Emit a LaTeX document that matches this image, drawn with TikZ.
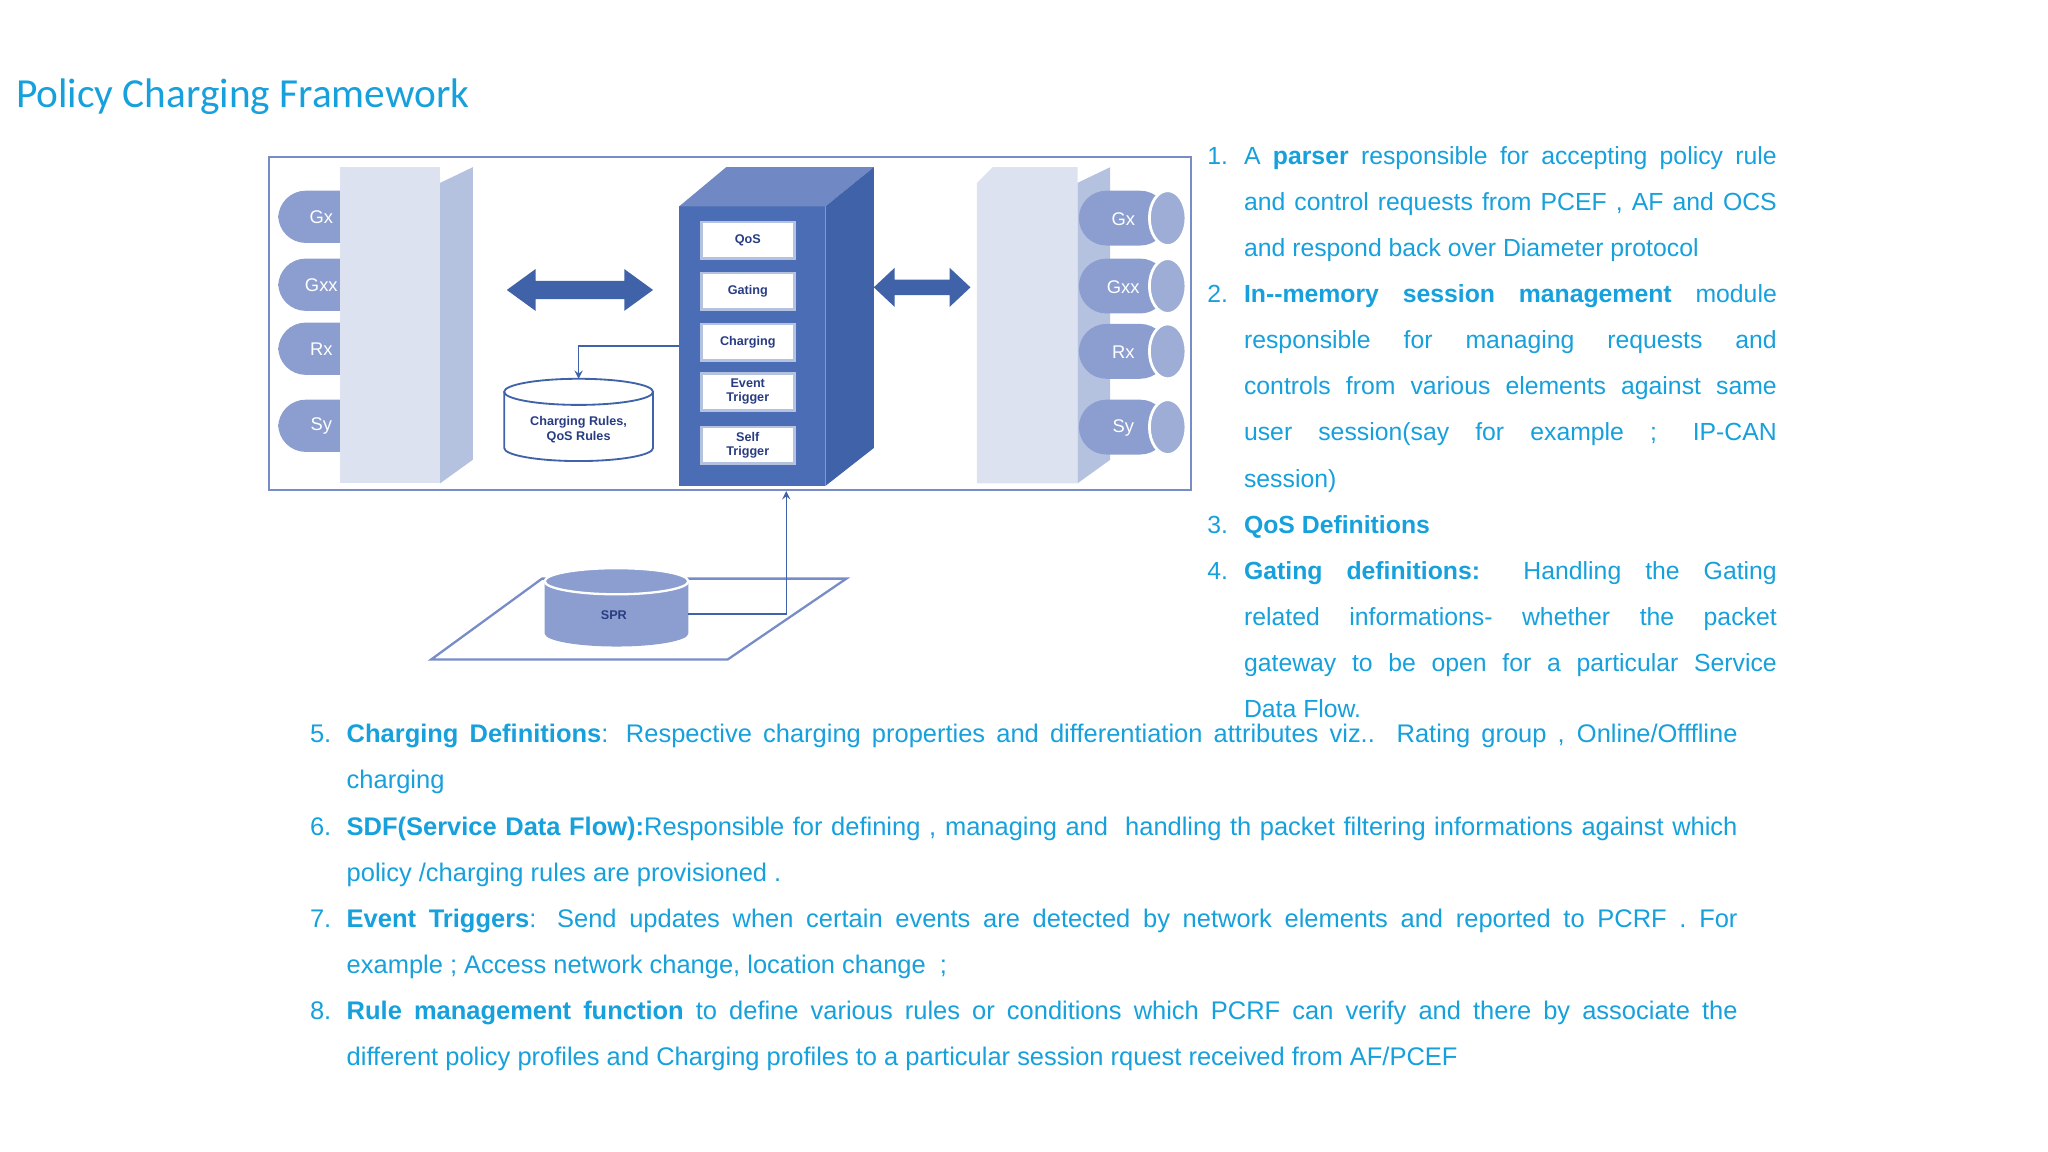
\documentclass[tikz,border=0pt]{standalone}
\usepackage{fontspec}
\setmainfont{Liberation Sans}
\newfontfamily\titlefont{Carlito}
\definecolor{tc}{RGB}{22,160,220}
\definecolor{fr}{RGB}{120,140,200}
\definecolor{slab}{RGB}{220,226,240}
\definecolor{slabside}{RGB}{180,194,224}
\definecolor{tab}{RGB}{140,158,207}
\definecolor{boxf}{RGB}{74,109,181}
\definecolor{boxt}{RGB}{112,136,196}
\definecolor{boxs}{RGB}{63,98,168}
\definecolor{dk}{RGB}{40,60,130}
\begin{document}
\begin{tikzpicture}[x=0.02cm,y=-0.02cm,
  tabt/.style={text=white,font=\fontsize{8}{8}\selectfont},
  btn/.style={draw=slabside,line width=1.2pt,fill=white,minimum width=71*0.02cm,minimum height=28*0.02cm,font=\bfseries\fontsize{5.5}{6}\selectfont,text=dk,align=center,inner sep=0pt},
  dbl/.style={fill=boxs},
  conn/.style={draw=boxs,line width=0.6pt},
  body/.style={text=tc,text width=#1,align=justify,inner sep=0pt,anchor=north west,font=\fontsize{11.1}{20.1}\selectfont},
]
\useasboundingbox (0,0) rectangle (1568,882);
\node[anchor=base west,inner sep=0,text=tc,font=\titlefont\fontsize{18}{18}\selectfont] (title) at (12,82) {Policy Charging Framework};
% frame
\draw[fr,line width=1pt] (206,120) rectangle (912,375);
% left tabs
\foreach \n/\y/\t in {lg/146/Gx,lgg/198/Gxx,lr/247/Rx,ls/306/Sy}{
  \fill[tab,rounded corners=12] (213,\y) rectangle (290,\y+40);
  \node[tabt] (\n) at (246,\y+20) {\t};
}
% left slab
\fill[slab] (260,128) rectangle (337,370);
\fill[slabside] (337,140) -- (362,128) -- (362,352) -- (337,370) -- cycle;
% left arrow
\fill[dbl] (388,222) -- (410,206) -- (410,215) -- (478,215) -- (478,206) -- (500,222) -- (478,238) -- (478,229) -- (410,229) -- (410,238) -- cycle;
% middle box
\fill[boxf] (520,158) rectangle (632,372);
\fill[boxt] (520,158) -- (556,128) -- (669,128) -- (632,158) -- cycle;
\fill[boxs] (632,158) -- (669,128) -- (669,343) -- (632,372) -- cycle;
\node[btn] (qos) at (572.5,184) {QoS};
\node[btn] (gat) at (572.5,223) {Gating};
\node[btn] (chg) at (572.5,262) {Charging};
\node[btn] (evt) at (572.5,300) {Event\\Trigger};
\node[btn] (slf) at (572.5,341) {Self\\Trigger};
% right arrow
\fill[dbl] (669,220) -- (685,205) -- (685,214) -- (727,214) -- (727,205) -- (743,220) -- (727,235) -- (727,226) -- (685,226) -- (685,235) -- cycle;
% right slab
\fill[slab] (748,140) -- (760,128) -- (825,128) -- (825,370) -- (748,370) -- cycle;
\fill[slabside] (825,140) -- (850,128) -- (850,352) -- (825,370) -- cycle;
% right cylinders
\foreach \n/\y/\t in {rg/146/Gx,rgg/198/Gxx,rr/248/Rx,rs/306/Sy}{
  \fill[tab,rounded corners=12] (826,\y) rectangle (894,\y+42);
  \draw[white,line width=1.2pt,fill=tab!85!white] (894,\y+21) ellipse (14 and 21);
  \node[tabt] (\n) at (860,\y+22) {\t};
}
% charging rules cylinder
\draw[boxs,line width=0.8pt,fill=white] (386,300) -- (386,343) arc[start angle=180,end angle=0,x radius=57,y radius=10] -- (500,300);
\draw[boxs,line width=0.8pt,fill=white] (443,300) ellipse (57 and 10);
\node[font=\bfseries\fontsize{5.5}{6.5}\selectfont,text=dk,align=center] (cr) at (443,329) {Charging Rules,\\QoS Rules};
\coordinate (crtop) at (443,290);
\draw[conn,-stealth] (520,265) -| (crtop);
% SPR
\draw[fr,line width=1pt] (330,505) -- (415,443) -- (648,443) -- (557,505) -- cycle;
\fill[tab] (417,445) -- (417,485) arc[start angle=180,end angle=0,x radius=55,y radius=10] -- (527,445) -- cycle;
\draw[white,line width=1pt,fill=tab] (472,445) ellipse (55 and 10);
\node[font=\bfseries\fontsize{5.5}{6}\selectfont,text=dk] (spr) at (470,471) {SPR};
\coordinate (sprr) at (527,470);
\coordinate (boxb) at (602,376);
\draw[conn,-stealth] (sprr) -| (boxb);
% text
\newcommand\itm[2]{\par\noindent\hangindent=16pt\hangafter=1\makebox[16pt][l]{#1}#2\par}
\node[body=436*0.02cm] (rt) at (924,90) {\fontsize{10.8}{20.1}\selectfont\hyphenpenalty=10000\exhyphenpenalty=10000%
\itm{1.}{A \textbf{parser} responsible for accepting policy rule\linebreak and control requests from PCEF , AF and OCS\linebreak and respond back over Diameter protocol}
\itm{2.}{\textbf{In{-}{-}memory session management} module\linebreak responsible for managing requests and\linebreak controls from various elements against same\linebreak user session(say for example ; IP-CAN\linebreak session)}
\itm{3.}{\textbf{QoS Definitions}}
\itm{4.}{\textbf{Gating definitions:} Handling the Gating\linebreak related informations- whether the packet\linebreak gateway to be open for a particular Service\linebreak Data Flow.}};
\node[body=1093*0.02cm] (bt) at (237,533) {\hyphenpenalty=10000\exhyphenpenalty=10000%
\itm{5.}{\textbf{Charging Definitions}: Respective charging properties and differentiation attributes viz.. Rating group , Online/Offfline\linebreak charging}
\itm{6.}{\textbf{SDF(Service Data Flow):}Responsible for defining , managing and \ handling th packet filtering informations against which\linebreak policy /charging rules are provisioned .}
\itm{7.}{\textbf{Event Triggers}: Send updates when certain events are detected by network elements and reported to PCRF . For\linebreak example ; Access network change, location change \ ;}
\itm{8.}{\textbf{Rule management function} to define various rules or conditions which PCRF can verify and there by associate the\linebreak different policy profiles and Charging profiles to a particular session rquest received from AF/PCEF}};
\end{tikzpicture}
\end{document}
